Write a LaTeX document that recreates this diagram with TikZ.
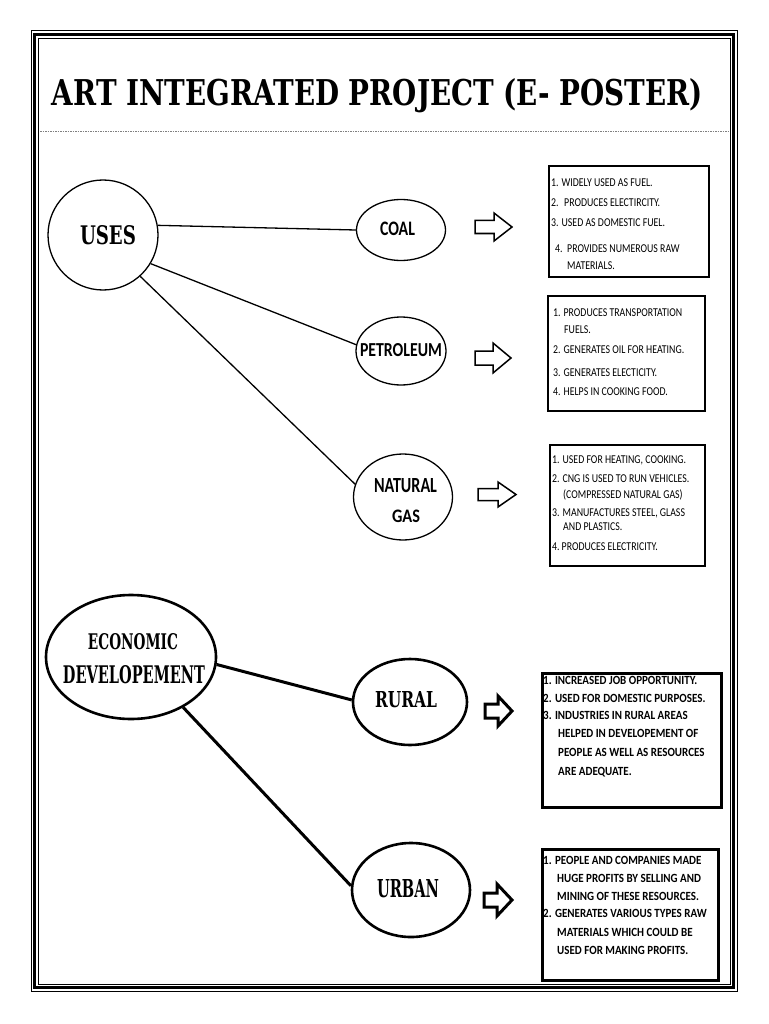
\documentclass[tikz,border=0pt]{standalone}
\usepackage{fontspec}
\usepackage{graphicx}
\usetikzlibrary{shapes.geometric}
\newfontfamily\ttlfont{DejaVu Serif}
\newfontfamily\bxfont{Carlito}[FakeStretch=0.82]
\newfontfamily\bxfontb{Carlito}[FakeStretch=0.88]
\newfontfamily\elfont{Carlito}
\newcommand\harr[7]{%
  \draw[#1] (#2,{#5-#6}) -- (#3,{#5-#6}) -- (#3,{#5-#7}) -- (#4,#5) -- (#3,{#5+#7}) -- (#3,{#5+#6}) -- (#2,{#5+#6}) -- cycle;}
\tikzset{
  ell/.style={draw, ellipse, line width=1.3pt, inner sep=0pt},
  ellb/.style={draw, ellipse, line width=2.6pt, inner sep=0pt},
  conn/.style={line width=1.3pt},
  connb/.style={line width=3pt},
  boxt/.style={draw, rectangle, line width=1.4pt, inner sep=0pt},
  boxb/.style={draw, rectangle, line width=3pt, inner sep=0pt},
  lt/.style={anchor=west, inner sep=0pt, font=\bxfont\fontsize{12}{14}\selectfont, text height=7.7pt, text depth=0pt},
  lb/.style={anchor=west, inner sep=0pt, font=\bxfontb\bfseries\fontsize{12.5}{15}\selectfont, text height=8pt, text depth=0pt},
  lab/.style={inner sep=0pt},
  arrt/.style={line width=1.5pt, line join=miter},
  arrb/.style={line width=3pt, line join=miter},
}
\begin{document}
\begin{tikzpicture}[x=1pt,y=-1pt]
\useasboundingbox (0,0) rectangle (768,1024);
% frame
\draw[line width=1pt] (31,31) rectangle (737,991);
\draw[line width=2.6pt] (34.5,34.5) rectangle (733.5,987.5);
\draw[line width=0.9pt] (38,38) rectangle (730,984);
% title
\node[lab, anchor=base] (title) at (377.5,106) {\resizebox{651pt}{27pt}{\ttlfont\bfseries ART INTEGRATED PROJECT (E- POSTER)}};
\draw[gray, line width=0.7pt, dash pattern=on 1.5pt off 1pt] (40,131) -- (729,131);

% ---- USES section
\node[draw, circle, line width=1.3pt, minimum size=110pt, inner sep=0pt] (uses) at (103,235) {};
\node[lab] (usest) at (108,235.5) {\resizebox{56pt}{19pt}{\ttlfont\bfseries USES}};

\node[ell, minimum width=89pt, minimum height=61pt] (coal) at (401,230) {};
\node[lab] (coalt) at (397.5,229) {\resizebox{35pt}{13.5pt}{\elfont\bfseries COAL}};
\node[ell, minimum width=90pt, minimum height=68pt] (petro) at (401,351) {};
\node[lab] (petrot) at (401,350.5) {\resizebox{82pt}{13pt}{\elfont\bfseries PETROLEUM}};
\node[ell, minimum width=99pt, minimum height=86pt] (gas) at (403,497) {};
\node[lab] (gast1) at (405.5,486) {\resizebox{63pt}{14pt}{\elfont\bfseries NATURAL}};
\node[lab] (gast2) at (406,516) {\resizebox{28pt}{12.5pt}{\elfont\bfseries GAS}};

\draw[conn] (uses.10) -- (coal.west);
\draw[conn] (uses.-31) -- (petro.172);
\draw[conn] (uses.-48) -- (gas.165);

\harr{arrt}{475}{494}{512}{227}{6.5}{14}
\harr{arrt}{475}{493}{511}{358}{7}{15}
\harr{arrt}{478}{498}{516}{494.5}{6}{12.5}

\node[boxt, minimum width=160pt, minimum height=111pt] (coalbox) at (629,221.5) {};
\node[lt] (c1) at (551,183) {1. WIDELY USED AS FUEL.};
\node[lt] (c2) at (551,203) {2.\hspace{5.5pt}PRODUCES ELECTIRCITY.};
\node[lt] (c3) at (551,223) {3. USED AS DOMESTIC FUEL.};
\node[lt] (c4) at (555,249) {4.\hspace{4.5pt}PROVIDES NUMEROUS RAW};
\node[lt] (c5) at (567,266) {MATERIALS.};

\node[boxt, minimum width=157pt, minimum height=115pt] (petrobox) at (626.5,353.5) {};
\node[lt] (p1) at (553,313) {1. PRODUCES TRANSPORTATION};
\node[lt] (p2) at (564,330) {FUELS.};
\node[lt] (p3) at (553,350) {2. GENERATES OIL FOR HEATING.};
\node[lt] (p4) at (553,373) {3. GENERATES ELECTICITY.};
\node[lt] (p5) at (553,392) {4. HELPS IN COOKING FOOD.};

\node[boxt, minimum width=155pt, minimum height=121pt] (gasbox) at (627.5,505.5) {};
\node[lt] (g1) at (552,460) {1. USED FOR HEATING, COOKING.};
\node[lt] (g2) at (552,479) {2. CNG IS USED TO RUN VEHICLES.};
\node[lt] (g3) at (563,495) {(COMPRESSED NATURAL GAS)};
\node[lt] (g4) at (552,513) {3. MANUFACTURES STEEL, GLASS};
\node[lt] (g5) at (563,527) {AND PLASTICS.};
\node[lt] (g6) at (552,547) {4.\hspace{2pt}PRODUCES ELECTRICITY.};

% ---- ECONOMIC section
\node[ellb, minimum width=170pt, minimum height=124pt] (econ) at (131,657) {};
\node[lab] (econt1) at (133,642) {\resizebox{90pt}{16pt}{\ttlfont\bfseries ECONOMIC}};
\node[lab] (econt2) at (134,675) {\resizebox{142pt}{18pt}{\ttlfont\bfseries DEVELOPEMENT}};

\node[ellb, minimum width=114pt, minimum height=86pt] (rural) at (410,702) {};
\node[lab] (ruralt) at (406,700) {\resizebox{62pt}{16pt}{\ttlfont\bfseries RURAL}};
\node[ellb, minimum width=118pt, minimum height=94pt] (urban) at (411,890) {};
\node[lab] (urbant) at (408,889) {\resizebox{62pt}{18pt}{\ttlfont\bfseries URBAN}};

\draw[connb] (econ.-5) -- (rural.178);
\draw[connb] (econ.-44) -- (urban.176);

\harr{arrb}{485}{498}{512}{711}{7}{15}
\harr{arrb}{484}{497}{512}{900}{7}{16}

\node[boxb, minimum width=179pt, minimum height=134pt] (ruralbox) at (631.5,740) {};
\node[lb] (r1) at (543,680) {1. INCREASED JOB OPPORTUNITY.};
\node[lb] (r2) at (543,698) {2. USED FOR DOMESTIC PURPOSES.};
\node[lb] (r3) at (543,715) {3. INDUSTRIES IN RURAL AREAS};
\node[lb] (r4) at (558,733) {HELPED IN DEVELOPEMENT OF};
\node[lb] (r5) at (558,752) {PEOPLE AS WELL AS RESOURCES};
\node[lb] (r6) at (558,771) {ARE ADEQUATE.};

\node[boxb, minimum width=176pt, minimum height=131pt] (urbanbox) at (630,914.5) {};
\node[lb] (u1) at (543,860) {1. PEOPLE AND COMPANIES MADE};
\node[lb] (u2) at (557,878) {HUGE PROFITS BY SELLING AND};
\node[lb] (u3) at (557,896) {MINING OF THESE RESOURCES.};
\node[lb] (u4) at (543,913) {2. GENERATES VARIOUS TYPES RAW};
\node[lb] (u5) at (557,932) {MATERIALS WHICH COULD BE};
\node[lb] (u6) at (557,950) {USED FOR MAKING PROFITS.};
\end{tikzpicture}
\end{document}
